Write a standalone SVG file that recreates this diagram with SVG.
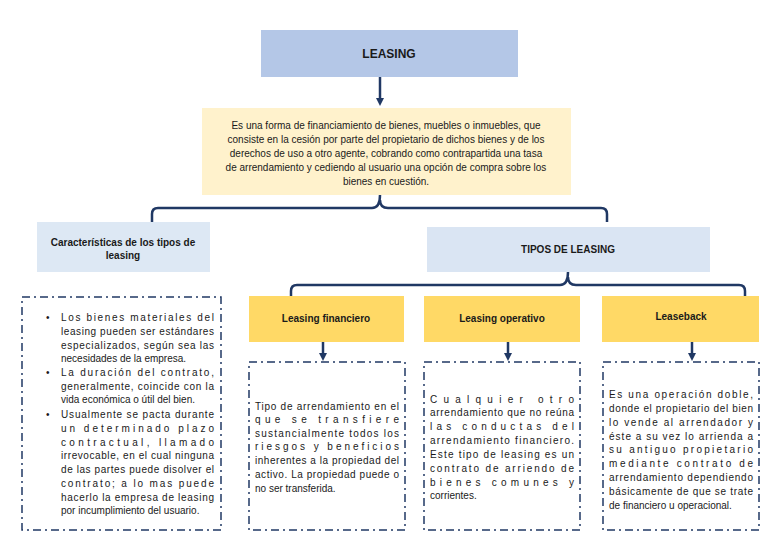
<svg xmlns="http://www.w3.org/2000/svg" width="768" height="543" viewBox="0 0 768 543">
<style>
text{font-family:"Liberation Sans",Arial,sans-serif;fill:#1a1a1a}
.t{font-size:10px}
.b{font-weight:bold;font-size:10.5px;text-anchor:middle}
.c{text-anchor:middle;font-size:10px}
.dash{fill:#fff;stroke:#203864;stroke-width:1.5;stroke-dasharray:8,4,2,4}
.ln{fill:none;stroke:#203864;stroke-width:2.5}
.y{fill:#ffd966}
</style>
<defs><marker id="ar" markerWidth="8" markerHeight="8" refX="4" refY="4" orient="auto" markerUnits="userSpaceOnUse"><path d="M0,0 L8,4 L0,8 z" fill="#203864"/></marker></defs>
<rect width="768" height="543" fill="#fff"/>
<g id="connectors">
<line class="ln" x1="380" y1="77" x2="380" y2="102" marker-end="url(#ar)"/>
<path class="ln" d="M380,195 Q380,208 372,208 L158,208 Q152,208 152,214 L152,222 M380,200 Q380,208 388,208 L601,208 Q607,208 607,214 L607,222"/>
<path class="ln" d="M568,272 Q568,285 560,285 L297,285 Q291,285 291,291 L291,296 M568,277 Q568,285 576,285 L739,285 Q745,285 745,291 L745,296"/>
<line class="ln" x1="323" y1="342" x2="323" y2="357" marker-end="url(#ar)"/>
<line class="ln" x1="508" y1="342" x2="508" y2="357" marker-end="url(#ar)"/>
<line class="ln" x1="692" y1="342" x2="692" y2="357" marker-end="url(#ar)"/>
</g>
<g id="leasing"><rect x="261" y="30" width="257" height="47" fill="#b4c7e7"/><text x="389" y="58" class="b" style="font-size:12px">LEASING</text></g>
<g id="definicion"><rect x="202" y="108" width="369" height="87" fill="#fff2cc"/>
<text class="c" x="386" y="129">Es una forma de financiamiento de bienes, muebles o inmuebles, que</text>
<text class="c" x="386" y="143">consiste en la cesión por parte del propietario de dichos bienes y de los</text>
<text class="c" x="386" y="157">derechos de uso a otro agente, cobrando como contrapartida una tasa</text>
<text class="c" x="386" y="171">de arrendamiento y cediendo al usuario una opción de compra sobre los</text>
<text class="c" x="386" y="185">bienes en cuestión.</text></g>
<g id="caracteristicas"><rect x="37" y="222" width="173" height="50" fill="#dde8f4"/><text x="123" y="246" class="b" style="font-size:10px">Características de los tipos de</text><text x="123" y="259" class="b" style="font-size:10px">leasing</text></g>
<g id="tipos"><rect x="427" y="227" width="283" height="45" fill="#dae5f3"/><text x="568" y="253" class="b" style="font-size:10px">TIPOS DE LEASING</text></g>
<g id="lf"><rect class="y" x="249" y="296" width="155" height="46"/><text x="326" y="322" class="b" style="font-size:10px">Leasing financiero</text></g>
<g id="lo"><rect class="y" x="424" y="296" width="156" height="46"/><text x="502" y="322" class="b" style="font-size:10px">Leasing operativo</text></g>
<g id="lb"><rect class="y" x="602" y="296" width="157" height="46"/><text x="681" y="320" class="b" style="font-size:10px">Leaseback</text></g>
<g id="lista"><rect class="dash" x="22" y="297" width="199" height="233"/>
<g class="t"><text x="46" y="321">•</text><text x="46" y="376">•</text><text x="46" y="418">•</text></g>
<g class="t" lengthAdjust="spacing">
<text x="61" y="321" textLength="153">Los bienes materiales del</text>
<text x="61" y="335" textLength="153">leasing pueden ser estándares</text>
<text x="61" y="349" textLength="153">especializados, según sea las</text>
<text x="61" y="362">necesidades de la empresa.</text>
<text x="61" y="376" textLength="153">La duración del contrato,</text>
<text x="61" y="390" textLength="153">generalmente, coincide con la</text>
<text x="61" y="403">vida económica o útil del bien.</text>
<text x="61" y="418" textLength="153">Usualmente se pacta durante</text>
<text x="61" y="432" textLength="153">un determinado plazo</text>
<text x="61" y="446" textLength="153">contractual, llamado</text>
<text x="61" y="459" textLength="153">irrevocable, en el cual ninguna</text>
<text x="61" y="473" textLength="153">de las partes puede disolver el</text>
<text x="61" y="487" textLength="153">contrato; a lo mas puede</text>
<text x="61" y="501" textLength="153">hacerlo la empresa de leasing</text>
<text x="61" y="514">por incumplimiento del usuario.</text></g></g>
<g id="lf-desc"><rect class="dash" x="249" y="362" width="156" height="168"/>
<g class="t">
<text x="255" y="410" textLength="144">Tipo de arrendamiento en el</text>
<text x="255" y="423" textLength="144">que se transfiere</text>
<text x="255" y="437" textLength="144">sustancialmente todos los</text>
<text x="255" y="450" textLength="144">riesgos y beneficios</text>
<text x="255" y="464" textLength="144">inherentes a la propiedad del</text>
<text x="255" y="478" textLength="144">activo. La propiedad puede o</text>
<text x="255" y="492">no ser transferida.</text></g></g>
<g id="lo-desc"><rect class="dash" x="424" y="362" width="156" height="168"/>
<g class="t">
<text x="430" y="403" textLength="144">Cualquier otro</text>
<text x="430" y="416" textLength="144">arrendamiento que no reúna</text>
<text x="430" y="430" textLength="144">las conductas del</text>
<text x="430" y="444" textLength="144">arrendamiento financiero.</text>
<text x="430" y="458" textLength="144">Este tipo de leasing es un</text>
<text x="430" y="472" textLength="144">contrato de arriendo de</text>
<text x="430" y="486" textLength="144">bienes comunes y</text>
<text x="430" y="499">corrientes.</text></g></g>
<g id="lb-desc"><rect class="dash" x="603" y="362" width="156" height="168"/>
<g class="t">
<text x="609" y="398" textLength="144">Es una operación doble,</text>
<text x="609" y="412" textLength="144">donde el propietario del bien</text>
<text x="609" y="426" textLength="144">lo vende al arrendador y</text>
<text x="609" y="440" textLength="144">éste a su vez lo arrienda a</text>
<text x="609" y="453" textLength="144">su antiguo propietario</text>
<text x="609" y="467" textLength="144">mediante contrato de</text>
<text x="609" y="481" textLength="144">arrendamiento dependiendo</text>
<text x="609" y="495" textLength="144">básicamente de que se trate</text>
<text x="609" y="509">de financiero u operacional.</text></g></g>
</svg>
